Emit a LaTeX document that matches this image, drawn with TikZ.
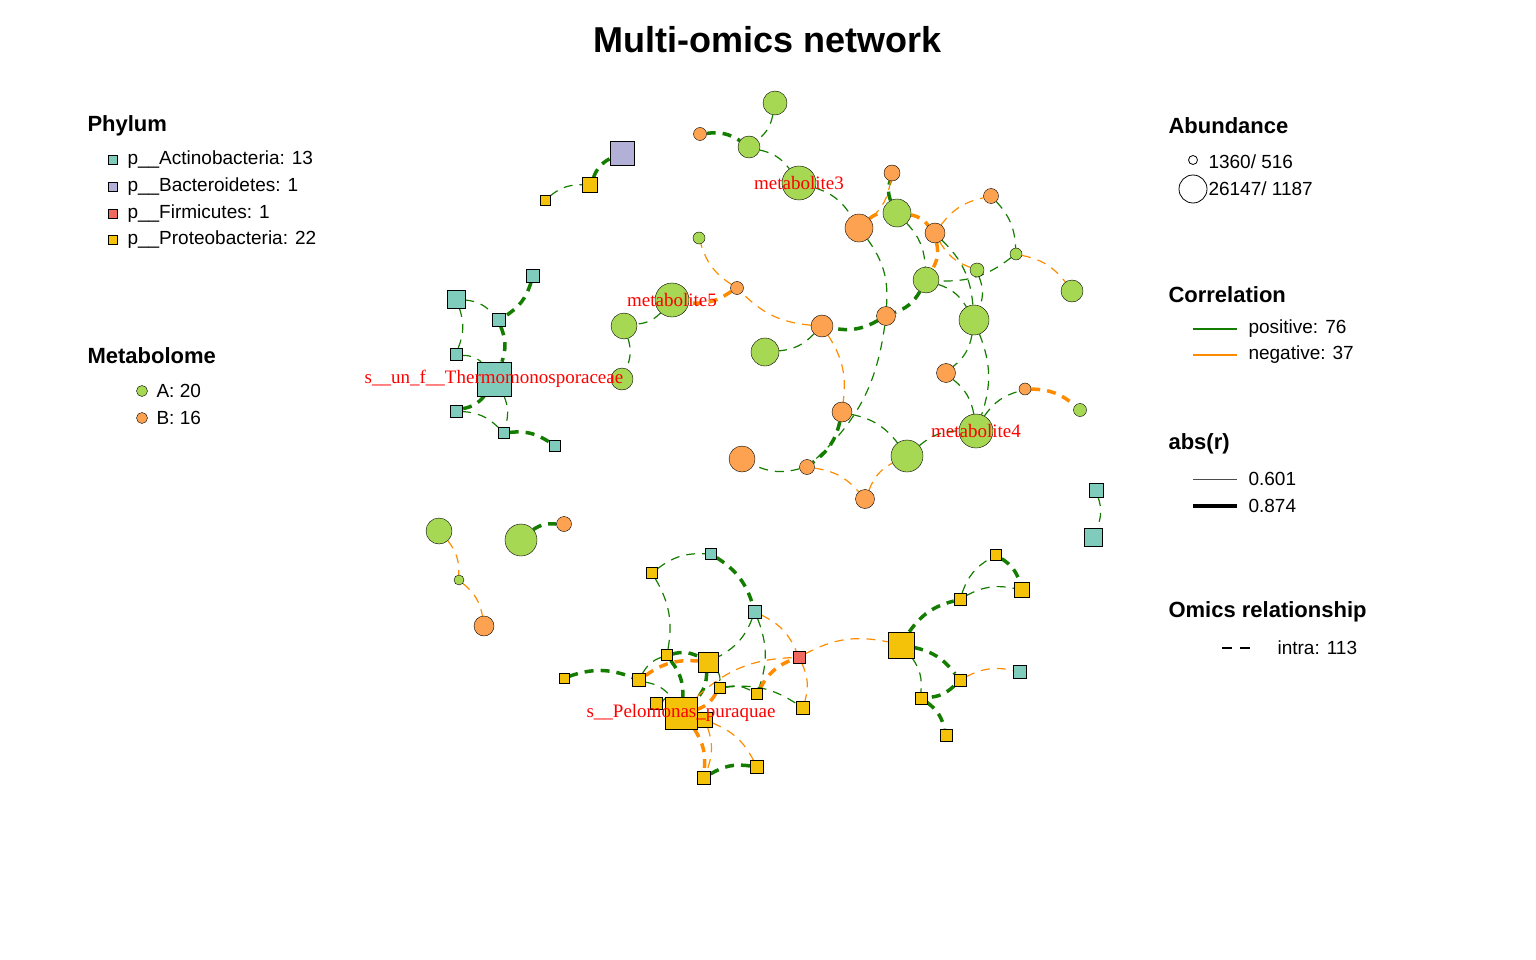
\documentclass[tikz,border=0pt]{standalone}
\usepackage{fontspec}
\setmainfont{Liberation Sans}
\newfontfamily\lblfont{Liberation Serif}
\usetikzlibrary{positioning,backgrounds}
\definecolor{metA}{RGB}{166,216,84}
\definecolor{metB}{RGB}{252,162,80}
\definecolor{actino}{RGB}{127,203,188}
\definecolor{bactero}{RGB}{178,176,214}
\definecolor{firmi}{RGB}{240,104,94}
\definecolor{proteo}{RGB}{245,194,10}
\definecolor{posc}{RGB}{20,125,0}
\definecolor{negc}{RGB}{255,140,0}
\tikzset{
  mA/.style={circle, draw=black, fill=metA, inner sep=0, minimum size=#1},
  mB/.style={circle, draw=black, fill=metB, inner sep=0, minimum size=#1},
  ac/.style={rectangle, draw=black, fill=actino, inner sep=0, minimum size=#1},
  bc/.style={rectangle, draw=black, fill=bactero, inner sep=0, minimum size=#1},
  fi/.style={rectangle, draw=black, fill=firmi, inner sep=0, minimum size=#1},
  pr/.style={rectangle, draw=black, fill=proteo, inner sep=0, minimum size=#1},
  eg/.style={dash pattern=on 9pt off 7pt, bend left=20},
  p/.style={eg, posc, line width=1.2pt},
  P/.style={eg, posc, line width=3.5pt},
  n/.style={eg, negc, line width=1.2pt},
  N/.style={eg, negc, line width=3.5pt},
  lbl/.style={text=red, font=\lblfont\fontsize{19}{22}\selectfont},
  head/.style={font=\bfseries\fontsize{22}{26}\selectfont, anchor=west},
  item/.style={font=\fontsize{19}{22}\selectfont, anchor=west}
}
\begin{document}
\begin{tikzpicture}[x=1pt, y=-1pt]
\useasboundingbox (0,0) rectangle (1536,960);
\node[font=\bfseries\fontsize{36}{40}\selectfont] (title) at (768,40) {Multi-omics network};
% metabolites
\node[mA=24] (m1) at (775,103) {};
\node[mB=13] (o1) at (700,134) {};
\node[mA=22] (m2) at (749,147) {};
\node[mA=34] (m3) at (799,183) {};
\node[mB=16] (o2) at (892,173) {};
\node[mB=28] (o3) at (859,228) {};
\node[mA=28] (m4) at (897,213) {};
\node[mB=20] (o4) at (935,233) {};
\node[mB=15] (o5) at (991,196) {};
\node[mA=12] (m5) at (1016,254) {};
\node[mA=14] (m6) at (977,270) {};
\node[mA=26] (m7) at (926,280) {};
\node[mA=22] (m8) at (1072,291) {};
\node[mA=30] (m9) at (974,320) {};
\node[mB=19] (o6) at (886,316) {};
\node[mB=22] (o7) at (822,326) {};
\node[mA=12] (m10) at (699,238) {};
\node[mB=13] (o8) at (737,288) {};
\node[mA=34] (m11) at (672,300) {};
\node[mA=26] (m12) at (624,326) {};
\node[mA=28] (m13) at (765,352) {};
\node[mB=19] (o9) at (946,373) {};
\node[mB=12] (o10) at (1025,389) {};
\node[mA=13] (m14) at (1080,410) {};
\node[mB=20] (o11) at (842,412) {};
\node[mA=34] (m15) at (976,431) {};
\node[mA=32] (m16) at (907,456) {};
\node[mB=26] (o12) at (742,459) {};
\node[mB=15] (o13) at (807,467) {};
\node[mB=19] (o14) at (865,499) {};
\node[mA=22] (m17) at (622,379) {};
\node[mA=26] (m18) at (439,531) {};
\node[mA=32] (m19) at (521,540) {};
\node[mB=15] (o15) at (564,524) {};
\node[mA=10] (m20) at (459,580) {};
\node[mB=20] (o16) at (484,626) {};
% microbes
\node[ac=13] (a1) at (533,276) {};
\node[ac=18] (a2) at (456,299) {};
\node[ac=13] (a3) at (499,320) {};
\node[ac=12] (a4) at (456,354) {};
\node[ac=34] (a5) at (494,379) {};
\node[ac=12] (a6) at (456,411) {};
\node[ac=11] (a7) at (504,433) {};
\node[ac=11] (a8) at (555,446) {};
\node[ac=14] (a9) at (1096,490) {};
\node[ac=18] (a10) at (1093,537) {};
\node[ac=11] (a11) at (711,554) {};
\node[ac=13] (a12) at (755,612) {};
\node[ac=13] (a13) at (1020,672) {};
\node[bc=24] (b1) at (622,153) {};
\node[fi=12] (f1) at (799,657) {};
\node[pr=15] (p1) at (590,185) {};
\node[pr=10] (p2) at (545,200) {};
\node[pr=11] (p3) at (652,573) {};
\node[pr=11] (p4) at (667,655) {};
\node[pr=20] (p5) at (708,662) {};
\node[pr=10] (p6) at (564,678) {};
\node[pr=13] (p7) at (639,680) {};
\node[pr=11] (p8) at (720,688) {};
\node[pr=11] (p9) at (757,694) {};
\node[pr=12] (p10) at (656,703) {};
\node[pr=32] (p11) at (681,713) {};
\node[pr=15] (p12) at (705,720) {};
\node[pr=13] (p13) at (803,708) {};
\node[pr=13] (p14) at (704,778) {};
\node[pr=13] (p15) at (757,767) {};
\node[pr=26] (p16) at (901,645) {};
\node[pr=11] (p17) at (996,555) {};
\node[pr=15] (p18) at (1022,590) {};
\node[pr=12] (p19) at (960,599) {};
\node[pr=12] (p20) at (960,680) {};
\node[pr=12] (p21) at (921,698) {};
\node[pr=12] (p22) at (946,735) {};
% edges
\begin{scope}[on background layer]
\foreach \a/\b/\s in {m1/m2/p, o1/m2/P, m2/m3/p, m3/o3/p, o3/m4/N, m4/o2/P, o2/o3/n,
  m4/o4/N, m4/m7/p, o3/o6/p, o4/m7/N, o4/m9/p, o4/o5/n, o5/m5/p, m5/m7/p, m5/m8/n,
  m7/o6/P, m7/m9/p, m6/m9/p, m6/o4/n, m9/o9/p, m9/m15/p, o6/o7/P, o6/o13/p, o7/m13/p,
  o7/o8/n, o8/m10/n, o8/m11/N, m11/m12/p, m12/m17/p, o7/o11/n, o11/o13/P, o13/o12/p,
  o13/o14/n, o14/m16/n, o11/m16/p, m16/m15/p, m15/o10/p, o10/m14/N, o9/m15/p,
  a1/a3/P, a2/a3/p, a2/a4/p, a3/a5/P, a4/a5/p, a5/a6/P, a6/a7/p, a7/a8/P, a5/a7/p,
  p1/b1/P, p2/p1/p, m18/m20/n, m20/o16/n, m19/o15/P, a9/a10/p,
  p3/a11/p, p3/p4/p, a11/a12/P, a12/p5/p, a12/p9/p, a12/f1/n, p6/p7/P, p7/p4/p,
  p4/p11/P, p5/p11/P, p4/p5/P, p7/p11/p, p5/p8/p, p8/p11/N, p8/p9/p, p9/f1/N,
  p11/f1/n, p8/p13/p, f1/p13/n, f1/p16/n, p11/p14/N, p12/p14/n, p14/p15/P,
  p12/p15/n, p10/p11/p, p11/p12/N, p7/p5/N,
  p16/p19/P, p19/p17/p, p17/p18/P, p19/p18/p, p16/p20/P, p20/a13/n, p20/p21/P,
  p21/p22/P, p16/p21/p}
  \draw[\s] (\a) to (\b);
\end{scope}
% labels
\node[lbl] at (m3) {metabolite3};
\node[lbl] at (m11) {metabolite5};
\node[lbl] at (m15) {metabolite4};
\node[lbl] at (a5) {s\_\_un\_f\_\_Thermomonosporaceae};
\node[lbl] at (p11) {s\_\_Pelomonas\_puraquae};
% legend left
\node[head] (phy) at (84,126) {Phylum};
\node[ac=9] (l1) at (113,160) {};
\node[item] at (124,160) {p\_\_Actinobacteria: 13};
\node[bc=9] (l2) at (113,187) {};
\node[item] at (124,187) {p\_\_Bacteroidetes: 1};
\node[fi=9] (l3) at (113,214) {};
\node[item] at (124,214) {p\_\_Firmicutes: 1};
\node[pr=9] (l4) at (113,240) {};
\node[item] at (124,240) {p\_\_Proteobacteria: 22};
\node[head] (mtb) at (84,356) {Metabolome};
\node[mA=11] (l5) at (142,391) {};
\node[item] at (153,391) {A: 20};
\node[mB=11] (l6) at (142,418) {};
\node[item] at (153,418) {B: 16};
% legend right
\node[head] (abn) at (1165,126) {Abundance};
\node[circle, draw, thick, inner sep=0, minimum size=9] (s1) at (1193,160) {};
\node[item] at (1205,162) {1360/ 516};
\node[circle, draw, thick, inner sep=0, minimum size=28] (s2) at (1193,189) {};
\node[item] at (1205,189) {26147/ 1187};
\node[head] (cor) at (1165,295) {Correlation};
\coordinate (c1) at (1193,329); \coordinate (c2) at (1237,329);
\draw[posc, line width=1.2pt] (c1) -- (c2);
\node[item] at (1245,329) {positive: 76};
\coordinate (c3) at (1193,355); \coordinate (c4) at (1237,355);
\draw[negc, line width=1.2pt] (c3) -- (c4);
\node[item] at (1245,355) {negative: 37};
\node[head] (abr) at (1165,444) {abs(r)};
\coordinate (r1) at (1193,479); \coordinate (r2) at (1237,479);
\draw[gray!60!black, line width=1pt] (r1) -- (r2);
\node[item] at (1245,479) {0.601};
\coordinate (r3) at (1193,506); \coordinate (r4) at (1237,506);
\draw[black, line width=4pt] (r3) -- (r4);
\node[item] at (1245,506) {0.874};
\node[head] (omr) at (1165,612) {Omics relationship};
\coordinate (d1) at (1222,648); \coordinate (d2) at (1256,648);
\draw[black, line width=1.5pt, dash pattern=on 10pt off 8pt] (d1) -- (d2);
\node[item] at (1274,648) {intra: 113};
\end{tikzpicture}
\end{document}
